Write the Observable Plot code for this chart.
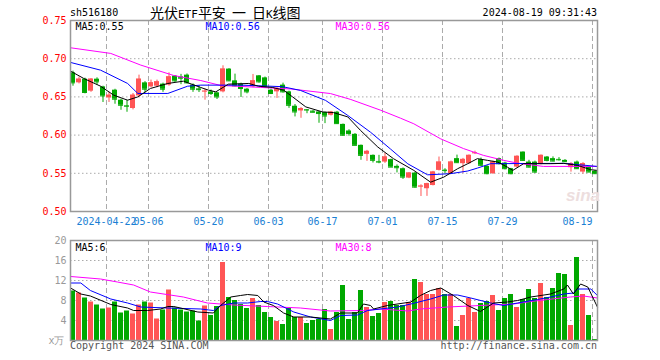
<!DOCTYPE html>
<html><head><meta charset="utf-8">
<script src="https://cdn.jsdelivr.net/npm/d3@7"></script>
<script src="https://cdn.jsdelivr.net/npm/@observablehq/plot@0.6"></script>
<style>
body{margin:0;background:#fff}
#wrap{position:relative;width:660px;height:360px;overflow:hidden;background:#fff;font-family:"DejaVu Sans Mono",monospace}
.t{position:absolute;white-space:pre;font-size:10px;line-height:12px;font-family:"DejaVu Sans Mono",monospace}
.cj{font-family:"Noto Sans CJK SC";font-size:14px}
.lt{font-size:11px}
#p1,#p2{position:absolute;left:0}
#p1{top:0}#p2{top:230px}
</style></head><body><div id="wrap">
<div class="t" style="left:70px;top:7px;color:#000">sh516180</div>
<div class="t" style="left:150px;top:5px;line-height:14px;color:#000"><span class="cj">光伏</span><span class="lt">ETF</span><span class="cj">平安</span> <span class="cj">一</span> <span class="cj">日</span><span class="lt">K</span><span class="cj">线图</span></div>
<div class="t" style="right:63px;top:7px;color:#000">2024-08-19 09:31:43</div>
<div id="p1"></div><div id="p2"></div>
<div class="t" style="left:566px;top:186px;font-size:17px;line-height:20px;font-style:italic;font-weight:bold;font-family:Arial,'Liberation Sans';color:#eddede">sina</div>
<div class="t" style="left:70px;top:340px;color:#555">Copyright 2024 SINA.COM</div>
<div class="t" style="right:63px;top:340px;color:#555">http://finance.sina.com.cn</div>
</div>
<script>
const open=[.6815,.6684,.6732,.6575,.6732,.6631,.6487,.6588,.6457,.6385,
.6348,.6513,.6684,.6631,.664,.6667,.6654,.6772,.6762,.6785,
.6654,.6605,.657,.6566,.6553,.6566,.6864,.671,.6667,.6601,
.6631,.6776,.6749,.6588,.6566,.6654,.6566,.6378,.6316,.6335,
.6314,.6303,.6295,.626,.630,.614,.6054,.601,.5866,.5748,
.5735,.5655,.5647,.5679,.5591,.556,.5437,.5503,.5325,.5298,
.534,.5538,.5542,.5495,.5692,.5626,.5626,.5762,.5679,.5591,
.5495,.5692,.5634,.556,.5581,.5778,.5647,.5647,.5626,.5713,
.5692,.5682,.5669,.5573,.5647,.5516,.5581,.5527];
const close=[.6684,.6732,.6558,.6732,.6697,.6513,.6522,.647,.6391,.6378,
.6522,.6732,.6601,.6684,.6697,.6601,.6762,.671,.6745,.6684,
.6601,.6595,.6575,.6545,.650,.6864,.671,.6644,.661,.6566,
.671,.6697,.6631,.6545,.661,.6566,.639,.6303,.6348,.6328,
.6299,.6282,.625,.630,.615,.5998,.602,.5866,.5735,.5787,
.567,.5647,.5713,.5581,.5573,.545,.5503,.5319,.5332,.5363,
.5516,.5647,.5535,.5647,.5639,.5682,.5735,.5768,.5605,.5495,
.5647,.5626,.556,.5495,.5722,.5669,.5581,.5516,.5735,.5669,
.566,.5677,.5652,.5626,.556,.5626,.5516,.5495];
const high=[.6837,.676,.6745,.674,.675,.664,.656,.66,.647,.6457,
.6545,.6785,.67,.672,.672,.668,.6815,.678,.6795,.68,
.667,.664,.66,.659,.656,.6907,.687,.6798,.668,.661,
.6794,.678,.676,.66,.662,.668,.6575,.640,.636,.6335,
.632,.631,.630,.631,.631,.6145,.607,.602,.587,.580,
.574,.5735,.5762,.5685,.561,.557,.551,.551,.535,.537,
.5525,.5713,.556,.566,.5738,.5695,.574,.579,.570,.560,
.566,.570,.5645,.5565,.573,.578,.567,.566,.574,.572,
.5715,.5705,.568,.564,.566,.564,.559,.5535];
const low=[.664,.667,.654,.656,.6655,.6427,.6427,.6404,.6325,.6299,
.633,.649,.655,.662,.662,.656,.664,.669,.666,.667,
.656,.6557,.6457,.652,.6466,.6553,.670,.663,.6492,.654,
.662,.668,.661,.653,.648,.655,.635,.6238,.622,.628,
.629,.6155,.615,.625,.614,.599,.5985,.586,.567,.5656,
.5635,.5625,.563,.5575,.5505,.542,.543,.5305,.5196,.5198,
.5335,.553,.549,.549,.563,.55,.562,.5745,.559,.548,
.5485,.561,.5545,.548,.557,.566,.557,.550,.561,.565,
.565,.566,.564,.5515,.555,.549,.551,.549];
const volume=[9.9,9.5,8.5,7.7,7.1,6.3,6.5,7.7,5.5,5.9,
5.3,7.1,7.7,7.5,4.3,6.1,10.1,6.5,6.1,5.7,
5.9,3.9,6.9,5.0,6.8,15.6,8.6,8.0,7.2,6.4,
8.4,7.0,5.6,4.6,3.8,3.2,6.4,4.6,4.6,3.4,
4.0,4.2,6.2,2.2,5.6,11.0,4.2,5.6,10.0,6.6,
4.8,5.4,7.6,7.8,7.0,7.0,7.6,12.2,11.6,9.2,
9.2,10.4,9.2,9.2,2.8,5.0,8.4,5.6,7.4,7.8,
9.0,6.0,8.4,9.2,6.6,8.2,10.2,8.4,11.4,8.6,
10.4,13.4,13.2,3.0,16.6,9.2,5.0,0.2];
const dateIdx=[7,14,24,34,43,53,63,73,88];
const dateLabels=["2024-04-22","05-06","05-20","06-03","06-17","07-01","07-15","07-29","08-19"];
const priceTicks=[0.50,0.55,0.60,0.65,0.70,0.75];
const volTicks=[4,8,12,16,20];
const ma5Price=[[0.6,.6837],[2.8,.6741],[5.6,.664],[7.8,.6522],[10.1,.6457],[11.8,.65],[13.9,.661],[16.8,.6676],[19.4,.6706],[22.3,.6623],[23.6,.6588],[24.8,.6566],[26.9,.6667],[30.3,.6676],[31.9,.664],[34.3,.6623],[36.1,.6588],[37.6,.65],[39.8,.6369],[42.6,.6303],[44.4,.6295],[46.8,.6238],[48.9,.6063],[51.8,.5844],[54.4,.5692],[57.8,.5538],[60.6,.5384],[62.8,.545],[65.1,.556],[66.8,.5626],[68.4,.5692],[70.1,.5669],[71.8,.5647],[73.4,.5581],[74.3,.5538],[76.1,.5626],[78.4,.5626],[80.6,.5626],[82.8,.563],[85.1,.5604],[87.3,.5547],[88.4,.5538]];
const ma10Price=[[0.6,.6951],[5.6,.685],[10.1,.6676],[11.8,.6545],[16.8,.6545],[20.1,.664],[22.3,.6654],[28.9,.6654],[35.9,.6634],[38.9,.6585],[43.1,.6454],[46.8,.6257],[50.6,.6037],[53.9,.5819],[56.8,.5624],[60.1,.548],[63.9,.5495],[66.8,.553],[68.4,.5568],[70.6,.5626],[82.8,.563],[88.4,.559]];
const ma30Price=[[0.6,.7143],[7.3,.7069],[12.3,.6916],[17.8,.678],[22.3,.6714],[25.6,.665],[32.3,.6624],[37.3,.6604],[43.9,.6544],[47.3,.6466],[52.3,.6325],[55.6,.6221],[57.8,.6148],[62.3,.595],[66.1,.5823],[69.4,.5735],[72.8,.5669],[75.1,.5633],[79.4,.559],[88.4,.559]];
const ma5Vol=[[0.6,10.5],[2.3,9.3],[3.9,8.9],[7.3,7.2],[10.1,6.5],[11.1,6.0],[13.4,6.0],[15.6,6.3],[16.8,6.8],[17.8,6.8],[21.8,5.7],[24.4,5.5],[25.6,7.0],[27.3,8.7],[28.9,9.0],[30.1,9.2],[31.8,9.0],[32.8,7.7],[34.4,7.0],[36.1,5.5],[37.8,4.7],[40.6,4.7],[43.9,4.3],[45.6,5.5],[48.4,5.5],[49.4,7.3],[50.6,7.0],[51.1,6.3],[53.4,7.0],[57.3,7.7],[58.9,9.0],[60.6,10.0],[62.3,10.5],[64.4,9.0],[66.8,7.0],[68.9,5.8],[71.1,7.5],[73.4,7.7],[75.1,8.0],[77.3,8.7],[80.6,9.3],[82.8,10.3],[83.4,11.1],[84.4,9.3],[85.6,11.3],[86.8,10.7],[88.4,6.7]];
const ma10Vol=[[0.6,11.5],[2.3,11.5],[3.9,10.0],[7.3,8.3],[10.1,7.5],[12.3,6.7],[16.8,6.5],[22.3,6.3],[24.4,6.0],[25.6,7.0],[27.8,7.5],[30.1,7.5],[32.3,7.8],[33.4,7.8],[35.1,7.3],[37.8,5.7],[40.6,4.7],[43.9,4.0],[45.6,5.0],[48.4,5.1],[50.1,6.0],[55.1,6.7],[57.3,7.3],[60.6,8.3],[62.8,9.1],[65.1,9.1],[67.3,8.5],[70.6,7.5],[72.8,7.0],[75.1,7.5],[78.4,8.2],[80.6,8.7],[82.8,9.3],[84.4,9.5],[85.1,10.3],[87.3,10.3],[88.4,9.0]];
const ma30Vol=[[0.6,12.8],[5.6,12.3],[8.4,11.7],[11.1,11.1],[13.9,9.7],[19.4,8.7],[23.4,7.5],[27.8,7.1],[33.4,6.8],[38.9,6.5],[43.9,5.9],[49.4,6.0],[52.3,6.3],[56.8,5.9],[58.9,6.3],[63.4,6.7],[68.9,7.0],[74.4,7.3],[77.3,7.8],[80.1,8.2],[83.9,8.7],[86.1,8.9],[88.4,8.5]];

const UP="#ff5555", DOWN="#00a800";
const bars=open.map((o,k)=>({i:k+1,open:o,close:close[k],high:high[k],low:low[k],vol:volume[k],c:close[k]>=o?UP:DOWN}));
const half=0.417;
const X={type:"linear",domain:[1-half,88+half],axis:null};
const common={width:660,marginLeft:70,marginRight:63,color:{type:"identity"},
  style:{background:"transparent",fontFamily:"DejaVu Sans Mono",fontSize:"10px",overflow:"visible"}};
const grid="#aaa";
const dates=dateIdx.map((d,k)=>({i:d,label:dateLabels[k],last:k===dateIdx.length-1}));
const price=Plot.plot({...common,height:230,marginTop:20,marginBottom:19,x:X,y:{domain:[0.5,0.75],axis:null},
 marks:[
  Plot.ruleY([0.55,0.60,0.65,0.70],{stroke:grid,strokeDasharray:"1.5,2.5"}),
  Plot.ruleX(dateIdx,{x:d=>d-half,stroke:grid,strokeDasharray:"5,3"}),
  Plot.ruleX(bars,{x:"i",y1:"low",y2:"high",stroke:"c"}),
  Plot.rect(bars,{x1:d=>d.i-half,x2:d=>d.i+half,y1:"open",y2:"close",fill:"c"}),
  Plot.ruleY(bars,{y:"close",x1:d=>d.i-half,x2:d=>d.i+half,stroke:"c"}),
  Plot.line(ma30Price,{x:d=>d[0],y:d=>d[1],stroke:"#ff00ff",strokeWidth:1}),
  Plot.line(ma10Price,{x:d=>d[0],y:d=>d[1],stroke:"#0000ff",strokeWidth:1}),
  Plot.line(ma5Price,{x:d=>d[0],y:d=>d[1],stroke:"#000",strokeWidth:1}),
  Plot.frame({stroke:"#999",strokeWidth:1.5}),
  Plot.text(priceTicks,{y:d=>d,text:d=>d.toFixed(2),frameAnchor:"left",textAnchor:"end",dx:-4,fill:"#ff0000"}),
  Plot.text(dates.filter(d=>!d.last),{x:d=>d.i-half,text:"label",frameAnchor:"bottom",lineAnchor:"middle",dy:10,fill:"#1a7fd4"}),
  Plot.text(dates.filter(d=>d.last),{x:d=>d.i-half,text:"label",frameAnchor:"bottom",lineAnchor:"middle",textAnchor:"end",dy:10,fill:"#1a7fd4"}),
  Plot.text(["MA5:0.55"],{frameAnchor:"top-left",textAnchor:"start",lineAnchor:"middle",dx:5,dy:6,fill:"#000"}),
  Plot.text(["MA10:0.56"],{frameAnchor:"top-left",textAnchor:"start",lineAnchor:"middle",dx:135,dy:6,fill:"#0000ff"}),
  Plot.text(["MA30:0.56"],{frameAnchor:"top-left",textAnchor:"start",lineAnchor:"middle",dx:265,dy:6,fill:"#ff00ff"})
 ]});
document.getElementById("p1").append(price);

const vol=Plot.plot({...common,height:130,marginTop:10,marginBottom:20,x:X,y:{domain:[0,20],axis:null},
 marks:[
  Plot.ruleY([4,8,12,16],{stroke:grid,strokeDasharray:"1.5,2.5"}),
  Plot.ruleX(dateIdx,{x:d=>d-half,stroke:grid,strokeDasharray:"5,3"}),
  Plot.rect(bars,{x1:d=>d.i-half,x2:d=>d.i+half,y1:0,y2:"vol",fill:"c"}),
  Plot.line(ma30Vol,{x:d=>d[0],y:d=>d[1],stroke:"#ff00ff",strokeWidth:1}),
  Plot.line(ma10Vol,{x:d=>d[0],y:d=>d[1],stroke:"#0000ff",strokeWidth:1}),
  Plot.line(ma5Vol,{x:d=>d[0],y:d=>d[1],stroke:"#000",strokeWidth:1}),
  Plot.frame({stroke:"#999",strokeWidth:1.5}),
  Plot.text(volTicks,{y:d=>d,text:d=>String(d),frameAnchor:"left",textAnchor:"end",dx:-4,fill:"#999"}),
  Plot.text(["x万"],{y:[0],frameAnchor:"left",textAnchor:"end",dx:-6,fill:"#999"}),
  Plot.text(["MA5:6"],{frameAnchor:"top-left",textAnchor:"start",lineAnchor:"middle",dx:5,dy:7,fill:"#000"}),
  Plot.text(["MA10:9"],{frameAnchor:"top-left",textAnchor:"start",lineAnchor:"middle",dx:135,dy:7,fill:"#0000ff"}),
  Plot.text(["MA30:8"],{frameAnchor:"top-left",textAnchor:"start",lineAnchor:"middle",dx:265,dy:7,fill:"#ff00ff"})
 ]});
document.getElementById("p2").append(vol);
</script></body></html>
